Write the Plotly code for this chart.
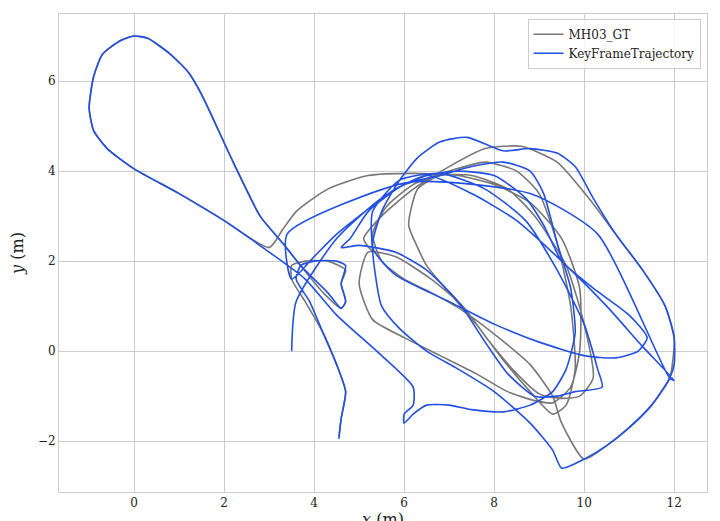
import plotly.graph_objects as go

# estimated trajectory points (x, y in metres)
gt_x = [4.55, 4.6, 4.7, 4.5, 4.2, 3.8, 3.5, 3.5, 3.8, 4.3, 4.7, 4.6, 4.7, 4.6,
        4.2, 3.7, 3.3, 2.8, 2.2, 1.5, 1.2, 0.8, 0.3, 0.0, -0.3, -0.7, -0.9, -1.0, -0.9, -0.6, 0.0, 1.0, 2.0, 3.0, 3.3,
        3.6, 4.3, 5.2, 6.2, 7.2, 8.0, 8.8, 9.5, 9.9, 9.9, 9.7, 9.3, 8.9, 8.3,
        7.6, 6.8, 6.0, 5.3, 5.0, 5.2, 5.8, 6.6, 7.3, 7.9, 8.5, 9.0, 9.5, 9.9, 10.2, 10.0, 9.6,
        8.9, 8.3, 7.5, 6.8, 6.3, 6.1, 6.3, 6.5, 7.0, 7.6, 8.2, 8.8, 9.3, 9.6,
        9.8, 9.7, 9.4, 9.0, 8.5, 7.8, 7.0, 6.2, 5.6, 5.3, 5.5, 6.0, 6.6, 7.3, 8.1, 8.8, 9.3, 9.5,
        10.0, 10.5, 11.0, 11.5, 11.9, 12.0, 11.8, 11.3, 10.7, 10.1, 9.4, 8.6, 7.8, 7.0, 6.2, 5.5, 5.1, 5.3]
gt_y = [-1.9, -1.5, -0.9, -0.3, 0.4, 1.1, 1.6, 1.9, 2.0, 2.0, 1.8, 1.5, 1.1, 0.95,
        1.3, 1.9, 2.4, 3.0, 4.2, 5.7, 6.2, 6.6, 6.95, 7.0, 6.9, 6.6, 6.1, 5.4, 4.9, 4.5, 4.05, 3.5, 2.9, 2.3, 2.7,
        3.1, 3.6, 3.9, 3.95, 3.9, 3.7, 3.3, 2.5, 1.4, 0.0, -0.8, -1.15, -1.1, -0.9,
        -0.5, -0.1, 0.3, 0.7, 1.5, 2.2, 2.1, 1.6, 1.0, 0.2, -0.5, -0.95, -1.05, -1.0, -0.6, 0.6, 1.9,
        3.0, 3.6, 3.9, 3.9, 3.6, 2.8, 2.3, 1.9, 1.3, 0.6, -0.2, -0.9, -1.4, -1.2,
        -0.4, 1.0, 2.4, 3.5, 4.0, 4.2, 4.0, 3.7, 3.2, 2.6, 2.0, 1.6, 1.3, 0.9, 0.3, -0.3, -1.0, -1.6,
        -2.4, -2.1, -1.7, -1.2, -0.6, 0.3, 1.0, 1.8, 2.6, 3.4, 4.2, 4.55, 4.5, 4.1, 3.6, 3.0, 2.5, 2.2]

kf_x = [4.55, 4.6, 4.7, 4.5, 4.2, 3.9, 3.6, 3.7, 4.0, 4.5, 4.7, 4.6, 4.7, 4.6,
        4.3, 3.7, 3.3, 2.8, 2.2, 1.5, 1.2, 0.8, 0.3, 0.0, -0.3, -0.7, -0.9, -1.0, -0.9, -0.6, 0.0, 1.0, 2.0, 3.0, 3.8,
        4.5, 5.5, 6.2, 6.2, 6.0, 6.0, 6.2, 6.5, 7.0, 7.5, 8.2, 8.8, 9.3, 9.6, 9.8, 9.7, 9.4, 9.1, 8.8, 8.2,
        7.5, 6.8, 6.0, 5.2, 4.8, 4.6, 5.0, 5.8, 6.5, 7.2, 7.8, 8.3, 8.9, 9.4, 9.8, 10.4,
        10.3, 10.0, 9.4, 8.7, 7.8, 6.8, 5.9, 5.3, 5.3, 5.5, 5.9, 6.5, 7.2, 8.0, 8.8, 9.3, 9.5,
        10.0, 10.5, 11.0, 11.5, 11.9, 12.0, 12.0, 11.8, 11.3, 10.7, 10.2, 9.8, 9.4, 8.8, 8.2, 7.4, 6.8, 6.3, 5.9, 5.5, 5.3,
        5.8, 7.0, 8.0, 9.0, 10.0, 10.7, 11.2, 11.4, 11.0, 10.2, 9.5, 9.1, 8.7, 8.0, 7.2, 6.5, 5.8, 5.0, 4.5, 4.0, 3.5,
        3.4, 6.1, 8.8, 10.3, 11.9, 12.0, 11.3, 10.5, 9.5, 8.5, 7.5, 6.5, 5.5, 4.5, 3.6, 3.5]
kf_y = [-1.95, -1.5, -0.9, -0.3, 0.4, 1.1, 1.6, 1.9, 2.0, 2.0, 1.9, 1.5, 1.1, 0.95,
        1.3, 1.9, 2.4, 3.0, 4.2, 5.7, 6.2, 6.6, 6.95, 7.0, 6.9, 6.6, 6.1, 5.4, 4.9, 4.5, 4.05, 3.5, 2.9, 2.2, 1.6,
        0.8, -0.1, -0.8, -1.2, -1.4, -1.6, -1.4, -1.2, -1.2, -1.3, -1.35, -1.2, -0.9, -0.4, 0.4, 1.4, 2.4, 3.5, 4.0, 4.2,
        4.1, 3.9, 3.7, 3.1, 2.5, 2.3, 2.35, 2.2, 1.8, 1.1, 0.2, -0.5, -1.0, -1.0, -0.9, -0.8,
        -0.4, 0.6, 1.8, 2.9, 3.6, 3.95, 3.8, 3.1, 2.2, 1.0, 0.5, 0.0, -0.4, -0.9, -1.6, -2.2, -2.6,
        -2.4, -2.1, -1.7, -1.2, -0.6, -0.3, 0.3, 1.0, 1.8, 2.6, 3.4, 4.1, 4.4, 4.5, 4.45, 4.75, 4.65, 4.3, 3.8, 3.1, 2.3,
        1.7, 1.1, 0.6, 0.2, -0.1, -0.15, 0.0, 0.3, 0.8, 1.4, 2.0, 2.8, 3.4, 3.9, 4.0, 3.9, 3.6, 3.0, 2.6, 2.1, 1.6,
        2.6, 3.75, 3.5, 2.6, -0.6, -0.65, 0.1, 1.0, 2.0, 2.9, 3.5, 3.9, 3.4, 2.5, 1.1, 0.0]

fig = go.Figure()
fig.add_trace(go.Scatter(x=gt_x, y=gt_y, mode="lines", name="MH03_GT",
                         line=dict(color="#777777", width=1.6, shape="spline", smoothing=0.6)))
fig.add_trace(go.Scatter(x=kf_x, y=kf_y, mode="lines", name="KeyFrameTrajectory",
                         line=dict(color="#2250e0", width=1.6, shape="spline", smoothing=0.6)))

axis = dict(showgrid=True, gridcolor="#cccccc", gridwidth=1, zeroline=False,
            showline=True, linecolor="#cccccc", mirror=True, ticks="", automargin=False,
            tickfont=dict(size=12, color="#222"))
fig.update_layout(
    width=720, height=521,
    plot_bgcolor="white", paper_bgcolor="white",
    font=dict(family="DejaVu Serif", size=13, color="#222"),
    margin=dict(l=51, r=21, t=6, b=37),
    xaxis=dict(axis, range=[-1.67, 12.73], dtick=2, title=dict(text="<i>x</i> (m)", standoff=2)),
    yaxis=dict(axis, range=[-3.13, 7.49], dtick=2, title=dict(text="<i>y</i> (m)", standoff=12)),
    legend=dict(x=0.99, y=0.99, xanchor="right", yanchor="top", bordercolor="#cccccc",
                borderwidth=1, bgcolor="rgba(255,255,255,0.8)", font=dict(size=12)),
)
fig.write_html("out.html")
